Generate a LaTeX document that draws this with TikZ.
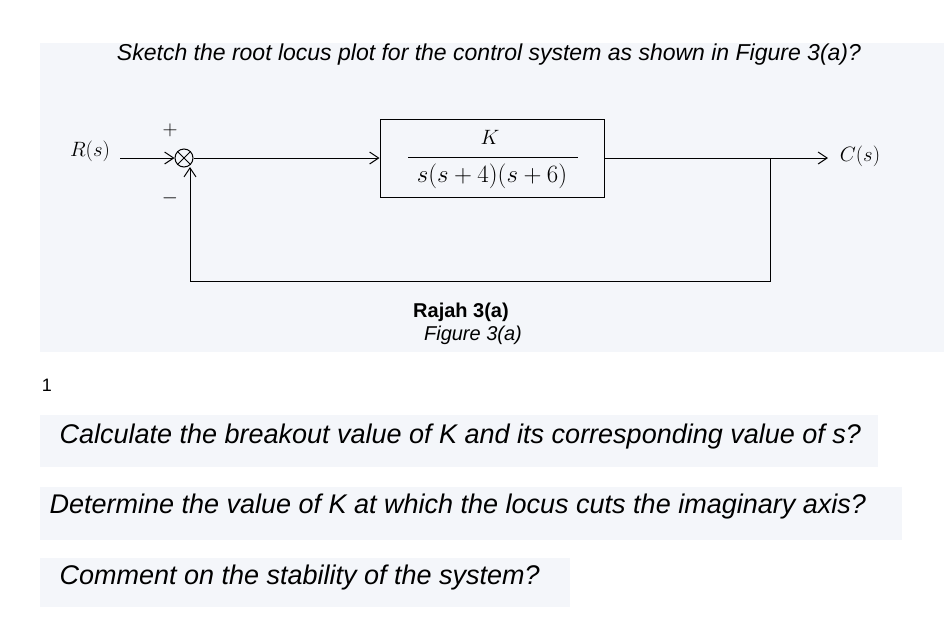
\documentclass[tikz,border=0pt]{standalone}
\usepackage{fontspec}
\setmainfont{Liberation Sans}
\usetikzlibrary{arrows.meta}
\definecolor{pan}{HTML}{F4F6FA}
\begin{document}
\begin{tikzpicture}[x=1pt,y=-1pt,
  panel/.style={fill=pan,draw=none},
  conn/.style={line width=1pt,-{Straight Barb[length=9pt,width=12pt]}},
  wire/.style={line width=1pt},
  m/.style={font=\fontsize{20}{24}\selectfont},
  q/.style={anchor=west,font=\fontsize{27}{30}\selectfont\itshape}]
\useasboundingbox[fill=white] (0,0) rectangle (946,630);
\fill[panel] (40,43) rectangle (944,352);
\fill[panel] (40,415) rectangle (878,467);
\fill[panel] (40,487) rectangle (902,540);
\fill[panel] (40,558) rectangle (570,607);
\node[font=\fontsize{23}{26}\selectfont\itshape] (title) at (489,55) {Sketch the root locus plot for the control system as shown in Figure 3(a)?};
\node[m] (R) at (90,151) {$R(s)$};
\node[circle,draw,line width=1pt,minimum size=18pt,inner sep=0pt] (sum) at (184,158) {};
\draw[line width=1pt] (sum.north west)--(sum.south east) (sum.north east)--(sum.south west);
\node[m] (plus) at (170,130) {$+$};
\node[m] (minus) at (170,198) {$-$};
\node[draw,line width=1pt,minimum width=224pt,minimum height=78pt] (G) at (492,158) {};
\node[m] (num) at (490,137) {$K$};
\draw[line width=0.8pt] (408,157)--(578,157);
\node[font=\fontsize{24}{28}\selectfont] (den) at (492,176) {$s(s+4)(s+6)$};
\node[m] (C) at (860,156) {$C(s)$};
\coordinate (rin) at (120,158);
\coordinate (cout) at (828,158);
\coordinate (tap) at (770,158);
\coordinate (b1) at (770,281);
\coordinate (b2) at (190,281);
\draw[conn] (rin) -- (sum.west);
\draw[conn] (sum.east) -- (G.west);
\draw[conn] (G.east) -- (cout);
\draw[wire] (tap) -- (b1) -- (b2) -- (190,200);
\draw[conn] (190,200) -- (190,167);
\node[font=\fontsize{20}{24}\selectfont\bfseries] (rajah) at (461,312) {Rajah 3(a)};
\node[font=\fontsize{20}{24}\selectfont\itshape] (fig) at (473,335) {Figure 3(a)};
\node[font=\fontsize{18}{22}\selectfont] (one) at (47,385) {1};
\node[q] (q1) at (56,437) {Calculate the breakout value of K and its corresponding value of s?};
\node[q] (q2) at (46,507) {Determine the value of K at which the locus cuts the imaginary axis?};
\node[q] (q3) at (56,578) {Comment on the stability of the system?};
\end{tikzpicture}
\end{document}
